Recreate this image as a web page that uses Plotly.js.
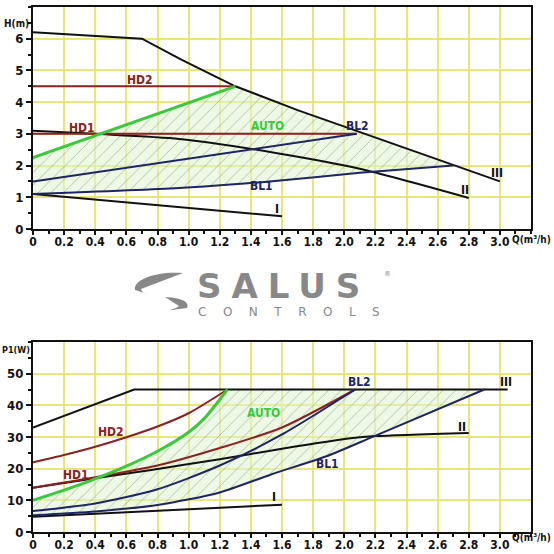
<!DOCTYPE html>
<html><head><meta charset="utf-8">
<script src="https://cdn.plot.ly/plotly-3.0.1.min.js"></script>
<style>html,body{margin:0;padding:0;background:#fff}#chart{width:554px;height:554px}</style>
</head><body><div id="chart"></div>
<script>
// ---------- DATA: head chart H(m) vs Q(m3/h) ----------
const hEnvQ = [0, 0.7, 0.95, 1.3, 1.7, 2.1, 2.7, 3.0];
const hEnvH = [6.2, 6.0, 5.35, 4.5, 3.75, 3.05, 2.0, 1.5];
const hIIQ = [0, 0.4, 0.94, 1.56, 2.1, 2.8];
const hIIH = [3.1, 3.0, 2.84, 2.4, 1.9, 0.98];
const hIQ = [0, 1.6];
const hIH = [1.1, 0.4];
const hHD2Q = [0, 1.3];
const hHD2H = [4.5, 4.5];
const hHD1Q = [0, 2.08];
const hHD1H = [3.0, 3.0];
const hAutoQ = [0, 1.3];
const hAutoH = [2.25, 4.5];
const hBL2Q = [0, 2.08];
const hBL2H = [1.5, 3.0];
const hBL1Q = [0, 0.94, 1.52, 2.1, 2.7];
const hBL1H = [1.1, 1.29, 1.5, 1.77, 2.0];

// ---------- DATA: power chart P1(W) vs Q(m3/h) ----------
const pEnvQ = [0, 0.65, 3.05];
const pEnvP = [33, 45, 45];
const pIIQ = [0, 0.4, 0.76, 1.2, 1.6, 2.04, 2.2, 2.8];
const pIIP = [14, 17, 19.6, 23, 26.3, 29.6, 30.3, 31.3];
const pIQ = [0, 1.6];
const pIP = [4.8, 8.6];
const pHD2Q = [0, 0.2, 0.4, 0.6, 0.8, 1.0, 1.25];
const pHD2P = [22, 24.3, 26.9, 29.9, 33.3, 37.5, 45];
const pHD1Q = [0, 0.4, 0.8, 1.2, 1.6, 2.07];
const pHD1P = [14, 17.3, 21, 26.5, 33, 45];
const pAutoQ = [0, 0.2, 0.4, 0.6, 0.8, 1.0, 1.1, 1.25];
const pAutoP = [10, 13.2, 16.8, 20.8, 25.5, 31.5, 35.8, 45];
const pBL2Q = [0, 0.4, 0.8, 1.2, 1.6, 2.07];
const pBL2P = [6.6, 9, 13.5, 21, 30.8, 45];
const pBL1Q = [0, 0.4, 0.8, 1.2, 1.525, 1.89, 2.19, 2.9];
const pBL1P = [5.3, 6.5, 8.5, 12.5, 18.1, 24, 30.2, 45];

// ---------- ticks ----------
const xTickVals = [0, 0.2, 0.4, 0.6, 0.8, 1.0, 1.2, 1.4, 1.6, 1.8, 2.0, 2.2, 2.4, 2.6, 2.8, 3.0];
const xTickText = ["0", "0.2", "0.4", "0.6", "0.8", "1.0", "1.2", "1.4", "1.6", "1.8", "2.0", "2.2", "2.4", "2.6", "2.8", "3.0"];
const hTickVals = [0, 1, 2, 3, 4, 5, 6];
const pTickVals = [0, 10, 20, 30, 40, 50];

// ---------- styles ----------
const FONT = "Liberation Sans Narrow, DejaVu Sans Condensed, Arial Narrow, sans-serif";
const BLACK = "#111111", RED = "#8a2222", GREEN = "#3cc83c", NAVY = "#1d2566";
const GRID = "rgba(226,226,100,0.85)";
const LOGO = "#888888";

function line(x, y, color, w, xa, ya, smooth) {
  const ln = {color: color, width: w};
  if (smooth) { ln.shape = "spline"; ln.smoothing = 0.7; }
  return {x: x, y: y, type: "scatter", mode: "lines", line: ln, xaxis: xa, yaxis: ya, hoverinfo: "skip"};
}
function hatch(xs, ys, xa, ya) {
  return {x: xs, y: ys, type: "scatter", mode: "lines", fill: "toself", line: {width: 0, color: "rgba(0,0,0,0)"},
    fillcolor: "rgba(220,240,200,0.6)",
    fillpattern: {shape: "/", fgcolor: "rgba(110,130,100,0.5)", bgcolor: "rgba(224,243,208,0.55)", size: 9, solidity: 0.1},
    xaxis: xa, yaxis: ya, hoverinfo: "skip"};
}

// hatch polygon (top): AUTO up, envelope down to BL1 end, BL1 back
const qEndTop = hBL1Q[hBL1Q.length - 1];
const topHX = [], topHY = [];
hAutoQ.forEach((q, i) => { topHX.push(q); topHY.push(hAutoH[i]); });
hEnvQ.forEach((q, i) => { if (q > hAutoQ[hAutoQ.length - 1] && q <= qEndTop) { topHX.push(q); topHY.push(hEnvH[i]); } });
for (let i = hBL1Q.length - 1; i >= 0; i--) { topHX.push(hBL1Q[i]); topHY.push(hBL1H[i]); }

// hatch polygon (bottom): AUTO up, top line, BL1 back
const botHX = [], botHY = [];
pAutoQ.forEach((q, i) => { botHX.push(q); botHY.push(pAutoP[i]); });
for (let i = pBL1Q.length - 1; i >= 0; i--) { botHX.push(pBL1Q[i]); botHY.push(pBL1P[i]); }

const traces = [
  hatch(topHX, topHY, "x", "y"),
  line(hEnvQ, hEnvH, BLACK, 2, "x", "y"),
  line(hIIQ, hIIH, BLACK, 2, "x", "y", true),
  line(hIQ, hIH, BLACK, 2, "x", "y"),
  line(hHD2Q, hHD2H, RED, 2, "x", "y"),
  line(hHD1Q, hHD1H, RED, 2, "x", "y"),
  line(hBL2Q, hBL2H, NAVY, 2, "x", "y"),
  line(hBL1Q, hBL1H, NAVY, 2, "x", "y", true),
  line(hAutoQ, hAutoH, GREEN, 3, "x", "y"),

  hatch(botHX, botHY, "x2", "y2"),
  line(pEnvQ, pEnvP, BLACK, 2, "x2", "y2"),
  line(pIIQ, pIIP, BLACK, 2, "x2", "y2", true),
  line(pIQ, pIP, BLACK, 2, "x2", "y2"),
  line(pHD2Q, pHD2P, RED, 2, "x2", "y2", true),
  line(pHD1Q, pHD1P, RED, 2, "x2", "y2", true),
  line(pBL2Q, pBL2P, NAVY, 2, "x2", "y2", true),
  line(pBL1Q, pBL1P, NAVY, 2, "x2", "y2", true),
  line(pAutoQ, pAutoP, GREEN, 3, "x2", "y2", true)
];

const W = 554, H = 554;
const px = v => v / W, py = v => 1 - v / H;

function xaxisDef(anchor) {
  return {domain: [px(33), px(531)], range: [0, 3.2], anchor: anchor, automargin: false,
    tickmode: "array", tickvals: xTickVals, ticktext: xTickText,
    showgrid: true, gridcolor: GRID, gridwidth: 2, zeroline: false,
    showline: true, linecolor: BLACK, linewidth: 2, mirror: true,
    ticks: "outside", ticklen: 4, tickwidth: 2, tickcolor: BLACK, ticklabelstandoff: -3,
    minor: {tickmode: "linear", tick0: 0, dtick: 0.1, ticks: "outside", ticklen: 3, tickwidth: 2, tickcolor: BLACK, showgrid: false},
    tickfont: {family: FONT, size: 12, color: BLACK, weight: "bold"}};
}
function yaxisDef(anchor, dom, rng, vals, mdt) {
  return {domain: dom, range: rng, anchor: anchor, automargin: false,
    tickmode: "array", tickvals: vals,
    showgrid: true, gridcolor: GRID, gridwidth: 2, zeroline: false,
    showline: true, linecolor: BLACK, linewidth: 2, mirror: true,
    ticks: "outside", ticklen: 5, tickwidth: 2, tickcolor: BLACK,
    minor: {tickmode: "linear", tick0: 0, dtick: mdt, ticks: "outside", ticklen: 3, tickwidth: 2, tickcolor: BLACK, showgrid: false},
    tickfont: {family: FONT, size: 13, color: BLACK, weight: "bold"}};
}

function lab(text, x, y, color, xa, ya, size) {
  return {text: text, x: x, y: y, xref: xa, yref: ya, showarrow: false,
    font: {family: FONT, size: size || 12, color: color, weight: "bold"}};
}
function plab(text, x, y, size, xanchor) {
  return {text: text, x: px(x), y: py(y), xref: "paper", yref: "paper", showarrow: false, xanchor: xanchor || "center",
    font: {family: FONT, size: size, color: BLACK, weight: "bold"}};
}

const annotations = [
  lab("HD2", 0.686, 4.71, RED, "x", "y"),
  lab("HD1", 0.313, 3.2, RED, "x", "y"),
  lab("AUTO", 1.507, 3.26, GREEN, "x", "y"),
  lab("BL2", 2.086, 3.26, NAVY, "x", "y"),
  lab("BL1", 1.47, 1.37, NAVY, "x", "y"),
  lab("I", 1.57, 0.64, BLACK, "x", "y"),
  lab("II", 2.775, 1.24, BLACK, "x", "y"),
  lab("III", 2.98, 1.77, BLACK, "x", "y"),

  lab("HD2", 0.498, 31.6, RED, "x2", "y2"),
  lab("HD1", 0.274, 17.9, RED, "x2", "y2"),
  lab("AUTO", 1.48, 37.5, GREEN, "x2", "y2"),
  lab("BL2", 2.10, 47.5, NAVY, "x2", "y2"),
  lab("BL1", 1.89, 21.5, NAVY, "x2", "y2"),
  lab("I", 1.55, 11.2, BLACK, "x2", "y2"),
  lab("II", 2.754, 33.3, BLACK, "x2", "y2"),
  lab("III", 3.04, 47.5, BLACK, "x2", "y2"),

  plab("H(m)", 2, 16, 10, "left"),
  plab("Q(m³/h)", 553, 240, 10, "right"),
  plab("P1(W)", 0, 350, 9, "left"),
  plab("Q(m³/h)", 553, 545, 10, "right"),

  {text: "<span style='letter-spacing:10px'>SALUS</span>", x: px(195), y: py(286), xref: "paper", yref: "paper",
    showarrow: false, xanchor: "left", yanchor: "middle",
    font: {family: "DejaVu Sans, Verdana, sans-serif", size: 34, color: LOGO, weight: "bold"}},
  {text: "®", x: px(393), y: py(274), xref: "paper", yref: "paper", showarrow: false,
    font: {family: "DejaVu Sans, sans-serif", size: 7, color: LOGO}},
  {text: "<span style='letter-spacing:16.5px'>CONTROLS</span>", x: px(196), y: py(312), xref: "paper", yref: "paper",
    showarrow: false, xanchor: "left", yanchor: "middle",
    font: {family: "DejaVu Sans, sans-serif", size: 12, color: LOGO}}
];

function pathPx(cmds) {
  // cmds in pixel units -> paper-space path
  return cmds.map(c => {
    if (c[0] === "Z") return "Z";
    let s = c[0];
    for (let i = 1; i < c.length; i += 2) s += " " + px(c[i]).toFixed(4) + "," + py(c[i + 1]).toFixed(4);
    return s;
  }).join(" ");
}
// swoosh mark of the logo: an upper C-shaped arc and a lower reversed arc with a tail
const swooshA = pathPx([["M", 183, 273], ["C", 155, 271, 133, 280, 135, 290, 137, 297, 155, 300, 178, 297],
  ["C", 158, 297, 141, 294, 141, 289, 141, 281, 160, 275, 183, 273], ["Z"]]);
const swooshB = pathPx([["M", 165, 297], ["C", 182, 298, 190, 302, 187, 308, 182, 314, 160, 315, 132, 314],
  ["C", 156, 312, 175, 310, 179, 306, 182, 302, 175, 299, 165, 297], ["Z"]]);

const layout = {
  width: W, height: H, margin: {l: 0, r: 0, t: 0, b: 0}, showlegend: false,
  paper_bgcolor: "#ffffff", plot_bgcolor: "#ffffff",
  xaxis: xaxisDef("y"),
  yaxis: yaxisDef("x", [py(229), py(7)], [0, 7], hTickVals, 0.5),
  xaxis2: xaxisDef("y2"),
  yaxis2: yaxisDef("x2", [py(532), py(342)], [0, 60], pTickVals, 5),
  annotations: annotations,
  shapes: [
    {type: "path", xref: "paper", yref: "paper", path: swooshA, fillcolor: LOGO, line: {width: 0}},
    {type: "path", xref: "paper", yref: "paper", path: swooshB, fillcolor: LOGO, line: {width: 0}}
  ]
};

Plotly.newPlot("chart", traces, layout, {staticPlot: true, displayModeBar: false});
</script>
</body></html>
